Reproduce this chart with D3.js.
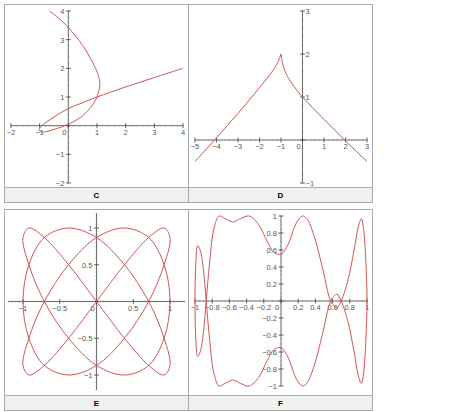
<!DOCTYPE html>
<html><head><meta charset="utf-8">
<script src="https://cdn.jsdelivr.net/npm/d3@7"></script>
<style>body{margin:0;background:#fff}text{font-family:"Liberation Sans",Arial,sans-serif}</style>
</head><body><svg width="474" height="412"></svg>
<script>
// C: traced points [x, y]
const curveC = [[-0.66,4],[-0.3,3.72],[0,3.42],[0.5,2.8],[0.85,2.2],[1.05,1.75],[1.1,1.45],[1,1],[0.75,0.6],[0.4,0.27],[0,0.05],[-0.4,-0.1],[-0.75,-0.2],[-0.95,-0.22],[-1.02,-0.14],[-0.9,0.02],[-0.5,0.3],[0,0.6],[0.5,0.8],[1,1],[2,1.35],[3,1.68],[4,2]];
// D: traced, cusp at (-1, 2)
const curveDLeft = [[-5,-0.5],[-4,0.05],[-3,0.62],[-2,1.22],[-1.4,1.6],[-1.15,1.8],[-1,2]];
const curveDRight = [[-1,2],[-0.9,1.72],[-0.7,1.48],[-0.4,1.25],[0,1],[1,0.48],[2,-0.02],[3,-0.5]];
// E: read at even steps round the loop
const curveEx = [0,.38,.71,.92,1,.92,.71,.38,0,-.38,-.71,-.92,-1,-.92,-.71,-.38,0,.38,.71,.92,1,.92,.71,.38,0,-.38,-.71,-.92,-1,-.92,-.71,-.38,0,.38,.71,.92,1,.92,.71,.38,0,-.38,-.71,-.92,-1,-.92,-.71,-.38];
const curveEy = [0,.5,.87,1,.87,.5,0,-.5,-.87,-1,-.87,-.5,0,.5,.87,1,.87,.5,0,-.5,-.87,-1,-.87,-.5,0,.5,.87,1,.87,.5,0,-.5,-.87,-1,-.87,-.5,0,.5,.87,1,.87,.5,0,-.5,-.87,-1,-.87,-.5];
// F: upper half, lower half is its mirror
const curveFUpper = [[1,0],[0.985,0.5],[0.96,0.85],[0.935,0.97],[0.9,0.88],[0.85,0.6],[0.78,0.25],[0.7,0],[0.65,-0.08],[0.6,-0.04],[0.56,0.05],[0.48,0.4],[0.38,0.78],[0.3,0.97],[0.25,1],[0.18,0.92],[0.08,0.66],[0,0.55],[-0.08,0.57],[-0.16,0.7],[-0.26,0.9],[-0.37,1],[-0.47,0.97],[-0.56,0.93],[-0.65,0.97],[-0.72,1],[-0.78,0.85],[-0.83,0.45],[-0.87,0],[-0.9,-0.35],[-0.94,-0.6],[-0.97,-0.65],[-0.99,-0.45],[-1,0]];

const lettersTop = ["C","D"], lettersBottom = ["E","F"];

const svg = d3.select("svg");
const red = "#d05555";

// panel frames
function frame(x0, y0, y1, labels){
  const g = svg.append("g");
  g.append("rect").attr("x",x0).attr("y",y0).attr("width",368).attr("height",y1-y0)
    .attr("fill","#fff").attr("stroke","#aaa");
  g.append("rect").attr("x",x0).attr("y",y1-15).attr("width",368).attr("height",15)
    .attr("fill","#f0f0f0").attr("stroke","#aaa");
  g.append("line").attr("x1",x0+184).attr("x2",x0+184).attr("y1",y0).attr("y2",y1).attr("stroke","#aaa");
  labels.forEach((l,i)=>g.append("text").attr("x",x0+92+184*i).attr("y",y1-4.5)
    .attr("text-anchor","middle").attr("font-size",8).attr("font-weight","bold").text(l));
}
frame(4.5,4.5,202.5,lettersTop);
frame(4.5,209.5,410.5,lettersBottom);

function axes(p){
  const {x,y,xt,yt,xm,ym,yLabRight,fmt} = p;
  const g = svg.append("g").attr("fill","none");
  const X0 = x(0), Y0 = y(0);
  const [xa,xb] = p.xExt, [ya,yb] = p.yExt;
  g.append("line").attr("x1",x(xa)).attr("x2",x(xb)).attr("y1",Y0).attr("y2",Y0).attr("stroke","#444").attr("stroke-width",0.8);
  g.append("line").attr("x1",X0).attr("x2",X0).attr("y1",y(ya)).attr("y2",y(yb)).attr("stroke","#444").attr("stroke-width",0.8);
  xm.forEach(v=>g.append("line").attr("x1",x(v)).attr("x2",x(v)).attr("y1",Y0-1.2).attr("y2",Y0+1.2).attr("stroke","#999").attr("stroke-width",0.6));
  ym.forEach(v=>g.append("line").attr("y1",y(v)).attr("y2",y(v)).attr("x1",X0-1.2).attr("x2",X0+1.2).attr("stroke","#999").attr("stroke-width",0.6));
  xt.forEach(v=>g.append("line").attr("x1",x(v)).attr("x2",x(v)).attr("y1",Y0-2.5).attr("y2",Y0+2.5).attr("stroke","#444").attr("stroke-width",0.8));
  yt.forEach(v=>g.append("line").attr("y1",y(v)).attr("y2",y(v)).attr("x1",X0-2.5).attr("x2",X0+2.5).attr("stroke","#444").attr("stroke-width",0.8));
  const t = svg.append("g").attr("font-size",7.5).attr("fill","#555");
  xt.forEach(v=>t.append("text").attr("x",x(v)+(v===0?-4:0)).attr("y",Y0+9).attr("text-anchor","middle").text(fmt(v)));
  yt.filter(v=>v!==0).forEach(v=>t.append("text").attr("x",yLabRight?X0+3:X0-4).attr("y",y(v)+3)
    .attr("text-anchor",yLabRight?"start":"end").text(fmt(v)));
}
const step = (a,b,s)=>d3.range(Math.round((b-a)/s)+1).map(i=>+(a+i*s).toFixed(3));

// C
const xC = d3.scaleLinear().domain([-2,4]).range([11,183]);
const yC = d3.scaleLinear().domain([-2,4]).range([183,11]);
axes({x:xC,y:yC,xExt:[-2,4],yExt:[-2,4],xt:step(-2,4,1),yt:step(-2,4,1),xm:step(-2,4,0.2),ym:step(-2,4,0.2),fmt:d3.format("")});
// D
const xD = d3.scaleLinear().domain([-5,3]).range([195,367]);
const yD = d3.scaleLinear().domain([-1,3]).range([183,11]);
axes({x:xD,y:yD,xExt:[-5,3],yExt:[-1,3],xt:step(-5,3,1),yt:step(-1,3,1),xm:step(-5,3,0.2),ym:step(-1,3,0.2),yLabRight:true,fmt:d3.format("")});
// E
const xE = d3.scaleLinear().domain([-1,1]).range([23,170]);
const yE = d3.scaleLinear().domain([-1,1]).range([375,228]);
axes({x:xE,y:yE,xExt:[-1.2,1.2],yExt:[-1.2,1.2],xt:step(-1,1,0.5),yt:step(-1,1,0.5),xm:step(-1.2,1.2,0.05),ym:step(-1.2,1.2,0.05),fmt:d3.format("")});
// F
const xF = d3.scaleLinear().domain([-1,1]).range([195,367]);
const yF = d3.scaleLinear().domain([-1,1]).range([386,216]);
axes({x:xF,y:yF,xExt:[-1,1],yExt:[-1,1],xt:step(-1,1,0.2),yt:step(-1,1,0.2),xm:step(-1,1,0.05),ym:step(-1,1,0.05),fmt:v=>d3.format("")(v)});

function draw(pts, x, y, c){
  svg.append("path").datum(pts).attr("fill","none").attr("stroke",red).attr("stroke-width",1)
    .attr("d", d3.line().x(d=>x(d[0])).y(d=>y(d[1])).curve(c||d3.curveCatmullRom));
}
draw(curveC,xC,yC);
draw(curveDLeft,xD,yD);
draw(curveDRight,xD,yD);
draw(curveEx.map((v,i)=>[v,curveEy[i]]),xE,yE,d3.curveCatmullRomClosed);
const fFull = curveFUpper.concat(curveFUpper.slice(1,-1).reverse().map(d=>[d[0],-d[1]]));
draw(fFull,xF,yF,d3.curveCatmullRomClosed);
</script></body></html>
